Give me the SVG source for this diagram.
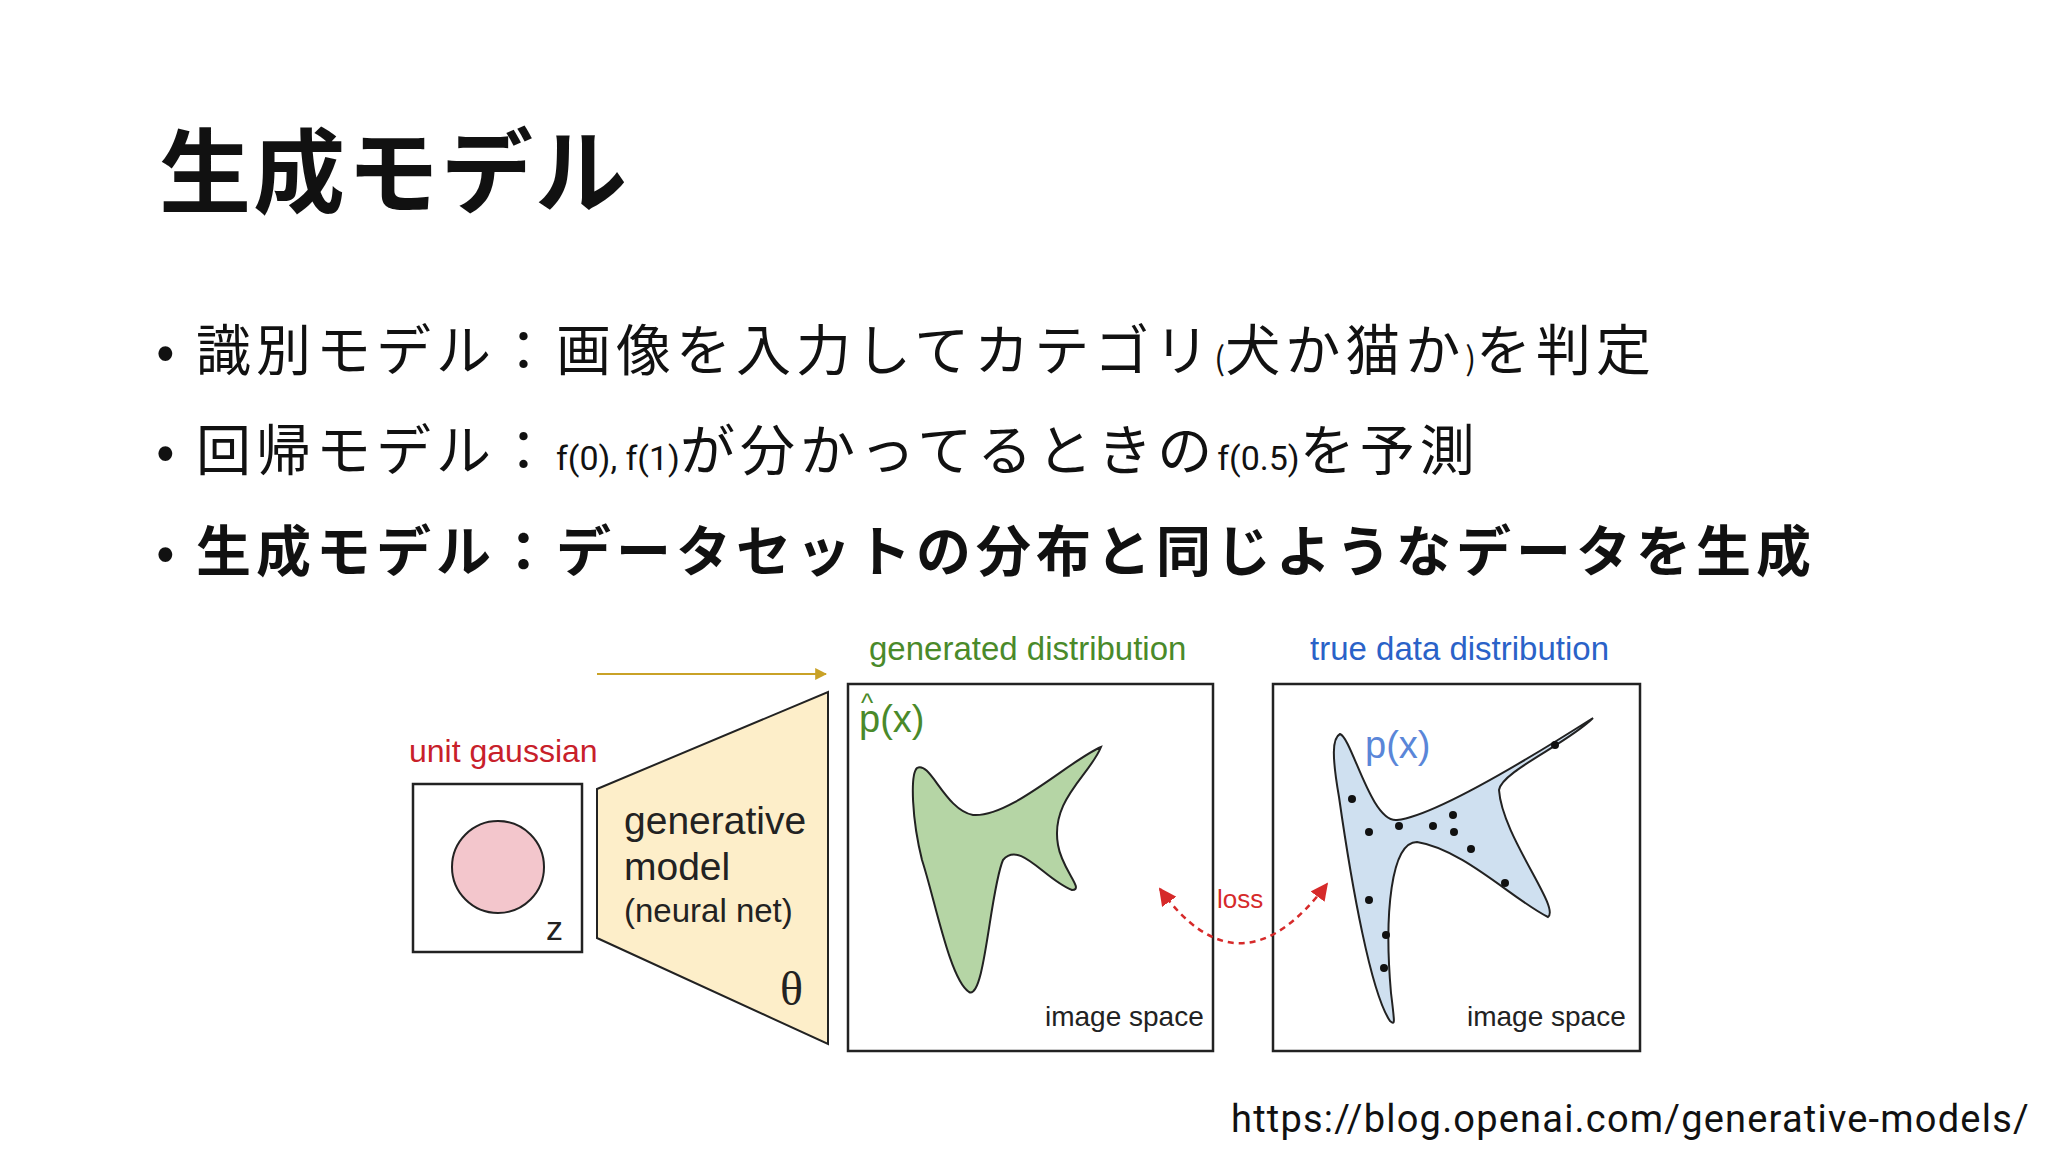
<svg xmlns="http://www.w3.org/2000/svg" width="2048" height="1152" viewBox="0 0 2048 1152">
<style>
.jp{font-family:"Noto Sans CJK JP","Noto Sans",sans-serif;fill:#111}
.d{font-family:"Liberation Sans","Noto Sans",sans-serif}
.box{fill:#fff;stroke:#222;stroke-width:2.5}
</style>
<defs>
<marker id="ar" viewBox="0 0 10 10" refX="9" refY="5" markerWidth="7" markerHeight="7" orient="auto-start-reverse"><path d="M0,0L10,5L0,10z" fill="#d62a2a"/></marker>
<marker id="ao" viewBox="0 0 10 10" refX="9" refY="5" markerWidth="6" markerHeight="6" orient="auto"><path d="M0,0L10,5L0,10z" fill="#c9a227"/></marker>
</defs>
<rect width="2048" height="1152" fill="#fff"/>
<text class="jp" x="159" y="206" font-size="92" font-weight="bold" letter-spacing="2">生成モデル</text>
<g id="bullets">
<text class="jp" x="156" y="370" font-size="55">•</text>
<text class="jp" x="196" y="370" font-size="55" letter-spacing="5">識別モデル：画像を入力してカテゴリ<tspan font-size="32" letter-spacing="0">(</tspan>犬か猫か<tspan font-size="32" letter-spacing="0">)</tspan>を判定</text>
<text class="jp" x="156" y="470" font-size="55">•</text>
<text class="jp" x="196" y="470" font-size="55" letter-spacing="5">回帰モデル：<tspan font-size="34" letter-spacing="0" font-family="Roboto,sans-serif">f(0), f(1)</tspan>が分かってるときの<tspan font-size="34" letter-spacing="0" font-family="Roboto,sans-serif">f(0.5)</tspan>を予測</text>
<text class="jp" x="156" y="571" font-size="55">•</text>
<text class="jp" x="196" y="571" font-size="55" font-weight="bold" letter-spacing="5">生成モデル：データセットの分布と同じようなデータを生成</text>
</g>
<g id="gaussian">
<text class="d" x="409" y="762" font-size="32" fill="#c8202a">unit gaussian</text>
<rect class="box" x="413" y="784" width="169" height="168"/>
<circle cx="498" cy="867" r="46" fill="#f3c6cc" stroke="#222" stroke-width="2"/>
<text class="d" x="546" y="940" font-size="34" fill="#222">z</text>
</g>
<g id="model">
<polygon points="597,789 828,692 828,1044 597,938" fill="#fdeec9" stroke="#222" stroke-width="2"/>
<text class="d" x="624" y="834" font-size="39" fill="#222">generative</text>
<text class="d" x="624" y="880" font-size="39" fill="#222">model</text>
<text class="d" x="624" y="922" font-size="33" fill="#222">(neural net)</text>
<text x="780" y="1005" font-size="48" font-family="Liberation Serif,serif" fill="#222">θ</text>
</g>
<g id="generated">
<text class="d" x="869" y="660" font-size="33" fill="#4a8a2a">generated distribution</text>
<rect class="box" x="848" y="684" width="365" height="367"/>
<text class="d" x="859" y="732" font-size="38" fill="#4a8a2a">p(x)</text>
<text class="d" x="861" y="712" font-size="26" fill="#4a8a2a">^</text>
<path d="M917,768 C930,760 945,810 973,815 C1010,818 1070,760 1101,747 C1090,775 1050,800 1058,845 C1062,870 1085,890 1072,890 C1045,880 1020,840 1003,860 C990,890 985,1000 969,992 C950,980 935,900 922,860 C912,820 910,775 917,768 Z" fill="#b5d5a5" stroke="#222" stroke-width="2"/>
<text class="d" x="1045" y="1026" font-size="28" fill="#222">image space</text>
</g>
<g id="true">
<text class="d" x="1310" y="660" font-size="33" fill="#2a62c8">true data distribution</text>
<rect class="box" x="1273" y="684" width="367" height="367"/>
<text class="d" x="1365" y="758" font-size="38" fill="#5a86d8">p(x)</text>
<path d="M1340,734 C1352,738 1371,823 1397,820 C1437,816 1541,751 1593,718 C1567,744 1502,771 1499,790 C1502,836 1561,908 1548,917 C1515,901 1463,849 1417,842 C1391,842 1384,914 1391,993 C1395,1025 1395,1025 1390,1021 C1371,993 1352,888 1339,797 C1332,757 1332,738 1340,734 Z" fill="#cfe0f0" stroke="#222" stroke-width="2"/>
<g fill="#111">
<circle cx="1352" cy="799" r="4"/><circle cx="1369" cy="832" r="4"/><circle cx="1399" cy="826" r="4"/>
<circle cx="1433" cy="826" r="4"/><circle cx="1453" cy="815" r="4"/><circle cx="1454" cy="832" r="4"/>
<circle cx="1471" cy="849" r="4"/><circle cx="1505" cy="883" r="4"/><circle cx="1555" cy="745" r="4"/>
<circle cx="1369" cy="900" r="4"/><circle cx="1386" cy="935" r="4"/><circle cx="1384" cy="968" r="4"/>
</g>
<text class="d" x="1467" y="1026" font-size="28" fill="#222">image space</text>
</g>
<g id="connectors">
<line x1="597" y1="674" x2="826" y2="674" stroke="#c9a227" stroke-width="2" marker-end="url(#ao)"/>
<path d="M1160,889 Q1240,1000 1327,884" fill="none" stroke="#d62a2a" stroke-width="2.5" stroke-dasharray="6,5" marker-start="url(#ar)" marker-end="url(#ar)"/>
<text class="d" x="1217" y="908" font-size="26" fill="#d62a2a">loss</text>
</g>
<text x="1231" y="1132" font-size="38" letter-spacing="1.2" font-family="Roboto,Liberation Sans,sans-serif" fill="#111">https://blog.openai.com/generative-models/</text>
</svg>
